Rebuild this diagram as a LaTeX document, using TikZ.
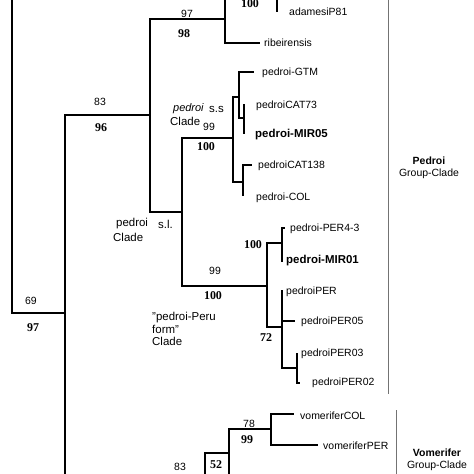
\documentclass[tikz,border=0pt]{standalone}
\usepackage{fontspec}
\setmainfont{Liberation Sans}
\newfontfamily\numfont{Liberation Serif}
\tikzset{
  branch/.style={draw, line width=1.3bp},
  bracket/.style={draw=black!55, line width=1bp},
  taxon/.style={anchor=west, inner sep=0pt, font=\fontsize{10.5}{12}\selectfont},
  taxonb/.style={anchor=west, inner sep=0pt, font=\fontsize{11.5}{13}\selectfont\bfseries},
  boot/.style={inner sep=0pt, font=\fontsize{10.5}{12}\selectfont},
  post/.style={inner sep=0pt, font=\fontsize{12}{14}\selectfont\numfont\bfseries},
  clade/.style={anchor=west, inner sep=0pt, font=\fontsize{11.5}{13}\selectfont},
}
\begin{document}
\begin{tikzpicture}[x=1bp, y=-1bp]
	\useasboundingbox (0,0) rectangle (474,474);
	\clip (0,0) rectangle (474,474);

	% internal nodes
	\coordinate (top) at (12,-20);
	\coordinate (gA) at (65,313);
	\coordinate (pedG) at (150,115);
	\coordinate (adaC) at (225,19);
	\coordinate (adaS) at (277,-10);
	\coordinate (slC) at (182,212);
	\coordinate (ssC) at (233,138);
	\coordinate (a1) at (239,97);
	\coordinate (a3) at (244,118);
	\coordinate (a2) at (243,182);
	\coordinate (peC) at (267,286);
	\coordinate (b1) at (282,243);
	\coordinate (b2) at (282,327);
	\coordinate (b3) at (297,368);
	\coordinate (vomG) at (205,484);
	\coordinate (vomL) at (240,520);
	\coordinate (v1) at (229,453);
	\coordinate (v1L) at (260,520);
	\coordinate (v2) at (271,429);

	% tips
	\coordinate (tADA) at (277,12);
	\coordinate (tADB) at (300,-30);
	\coordinate (tRIB) at (260,43);
	\coordinate (tGTM) at (254,72);
	\coordinate (tC73) at (244,104);
	\coordinate (tM05) at (244,134);
	\coordinate (tC138) at (252,165);
	\coordinate (tCOL) at (243,196);
	\coordinate (tP43) at (285,228);
	\coordinate (tM01) at (282,262);
	\coordinate (tPER) at (282,290);
	\coordinate (tP05) at (295,321);
	\coordinate (tP03) at (297,353);
	\coordinate (tP02) at (300,383);
	\coordinate (tVC) at (294,414);
	\coordinate (tVP) at (318,445);

	% branches
	\path[branch] (top) |- (gA);
	\path[branch] (gA) |- (pedG);
	\path[branch] (gA) |- (vomG);
	\path[branch] (pedG) |- (adaC);
	\path[branch] (pedG) |- (slC);
	\path[branch] (adaC) |- (adaS);
	\path[branch] (adaC) |- (tRIB);
	\path[branch] (adaS) |- (tADA);
	\path[branch] (adaS) |- (tADB);
	\path[branch] (slC) |- (ssC);
	\path[branch] (slC) |- (peC);
	\path[branch] (ssC) |- (a1);
	\path[branch] (ssC) |- (a2);
	\path[branch] (a1) |- (tGTM);
	\path[branch] (a1) |- (a3);
	\path[branch] (a3) |- (tC73);
	\path[branch] (a3) |- (tM05);
	\path[branch] (a2) |- (tC138);
	\path[branch] (a2) |- (tCOL);
	\path[branch] (peC) |- (b1);
	\path[branch] (peC) |- (b2);
	\path[branch] (b1) |- (tP43);
	\path[branch] (b1) |- (tM01);
	\path[branch] (b2) |- (tPER);
	\path[branch] (b2) |- (tP05);
	\path[branch] (b2) |- (b3);
	\path[branch] (b3) |- (tP03);
	\path[branch] (b3) |- (tP02);
	\path[branch] (vomG) |- (v1);
	\path[branch] (vomG) |- (vomL);
	\path[branch] (v1) |- (v2);
	\path[branch] (v1) |- (v1L);
	\path[branch] (v2) |- (tVC);
	\path[branch] (v2) |- (tVP);

	% taxon names
	\node[taxon] (nADA) at (289,12) {adamesiP81};
	\node[taxon] (nRIB) at (264,43) {ribeirensis};
	\node[taxon] (nGTM) at (262,73) {pedroi-GTM};
	\node[taxon] (nC73) at (256,106) {pedroiCAT73};
	\node[taxonb] (nM05) at (255,135) {pedroi-MIR05};
	\node[taxon] (nC138) at (258,166) {pedroiCAT138};
	\node[taxon] (nCOL) at (256,198) {pedroi-COL};
	\node[taxon] (nP43) at (290,229) {pedroi-PER4-3};
	\node[taxonb] (nM01) at (286,261) {pedroi-MIR01};
	\node[taxon] (nPER) at (286,292) {pedroiPER};
	\node[taxon] (nP05) at (301,322) {pedroiPER05};
	\node[taxon] (nP03) at (301,354) {pedroiPER03};
	\node[taxon] (nP02) at (312,383) {pedroiPER02};
	\node[taxon] (nVC) at (300,416) {vomeriferCOL};
	\node[taxon] (nVP) at (323,446) {vomeriferPER};

	% support values
	\node[boot] (s69) at (31,301) {69};
	\node[post] (p97) at (33,328) {97};
	\node[boot] (s83) at (100,102) {83};
	\node[post] (p96) at (101,128) {96};
	\node[boot] (s97) at (187,14) {97};
	\node[post] (p98) at (184,34) {98};
	\node[post] (pADA) at (250,4) {100};
	\node[boot] (sSS) at (209,127) {99};
	\node[post] (pSS) at (206,147) {100};
	\node[boot] (sPE) at (215,271) {99};
	\node[post] (pPE) at (213,296) {100};
	\node[post] (pB1) at (253,245) {100};
	\node[post] (pB2) at (266,338) {72};
	\node[boot] (s78) at (249,424) {78};
	\node[post] (p99) at (247,440) {99};
	\node[post] (p52) at (216,465) {52};
	\node[boot] (s83v) at (180,467) {83};

	% clade names
	\node[clade, font=\fontsize{11}{13}\selectfont\itshape] (ssA) at (173,109) {pedroi};
	\node[clade, anchor=east] (ssB) at (224,109) {s.s};
	\node[clade] (ssC1) at (170,121) {Clade};
	\node[clade] (slA) at (116,224) {pedroi};
	\node[clade] (slB) at (158,224) {s.l.};
	\node[clade] (slC1) at (113,237) {Clade};
	\node[clade, align=left, font=\fontsize{11.5}{12.7}\selectfont] (peru) at (152,329) {"pedroi-Peru\\form"\\Clade};

	% group brackets
	\coordinate (brA) at (388,-5);
	\coordinate (brB) at (388,394);
	\coordinate (brC) at (396,410);
	\coordinate (brD) at (396,480);
	\path[bracket] (brA) -- (brB);
	\path[bracket] (brC) -- (brD);
	\node[align=center, inner sep=0pt, font=\fontsize{10.5}{12}\selectfont] (gPed) at (429,168) {\textbf{Pedroi}\\Group-Clade};
	\node[align=center, inner sep=0pt, font=\fontsize{10.5}{12}\selectfont] (gVom) at (437,460) {\textbf{Vomerifer}\\Group-Clade};
\end{tikzpicture}
\end{document}
